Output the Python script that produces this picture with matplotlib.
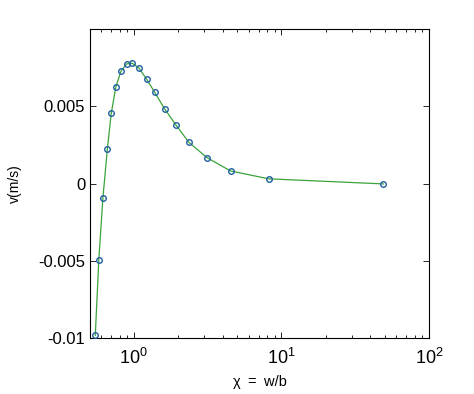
import matplotlib
matplotlib.use("Agg")
import matplotlib.pyplot as plt
from matplotlib.ticker import FixedLocator, FixedFormatter, LogLocator, NullFormatter

plt.rcParams['font.family'] = ['Liberation Sans', 'DejaVu Sans']
plt.rcParams['mathtext.fontset'] = 'custom'
plt.rcParams['mathtext.rm'] = 'Liberation Sans'
plt.rcParams['mathtext.it'] = 'Liberation Sans:italic'

chi = [0.548, 0.579, 0.617, 0.661, 0.703, 0.755, 0.817, 0.893, 0.975, 1.081,
       1.219, 1.381, 1.614, 1.924, 2.357, 3.12, 4.52, 8.2, 49.0]
v = [-0.00982, -0.00492, -0.00093, 0.00221, 0.00456, 0.00625, 0.00727, 0.00775,
     0.00779, 0.00749, 0.00677, 0.00593, 0.00485, 0.00381, 0.00268, 0.00169,
     0.00082, 0.00031, -0.00002]

ytick_vals = [-0.01, -0.005, 0, 0.005]
ytick_labels = ['-0.01', '-0.005', '0', '0.005']
xtick_vals = [1, 10, 100]
xtick_labels = ['$10^{0}$', '$10^{1}$', '$10^{2}$']

fig = plt.figure(figsize=(4.74, 3.94), dpi=100)
ax = fig.add_axes([0.190, 0.142, 0.715, 0.784])
ax.plot(chi, v, '-', color='#3aa33a', lw=0.9, zorder=2)
ax.plot(chi, v, 'o', mfc='none', mec='#1f5fa0', ms=4, mew=1.0, zorder=3)
ax.set_xscale('log')
ax.set_xlim(0.505, 100)
ax.set_ylim(-0.01, 0.01)
ax.xaxis.set_major_locator(FixedLocator(xtick_vals))
ax.xaxis.set_major_formatter(FixedFormatter(xtick_labels))
ax.xaxis.set_minor_locator(LogLocator(base=10, subs=range(2, 10)))
ax.xaxis.set_minor_formatter(NullFormatter())
ax.yaxis.set_major_locator(FixedLocator(ytick_vals))
ax.yaxis.set_major_formatter(FixedFormatter(ytick_labels))
ax.tick_params(which='both', direction='in', top=True, right=True, labelsize=12)
ax.tick_params(axis='x', labelsize=13)
ax.tick_params(which='major', length=4, width=0.6)
ax.tick_params(which='minor', length=2, width=0.6)
ax.tick_params(axis='x', pad=7)
for s in ax.spines.values():
    s.set_linewidth(0.8)
ax.set_xlabel('χ\u2002=\u2002w/b', fontsize=10.5, labelpad=5)
ax.set_ylabel('v(m/s)', fontsize=10, labelpad=12)
fig.savefig('out.png', dpi=100)
